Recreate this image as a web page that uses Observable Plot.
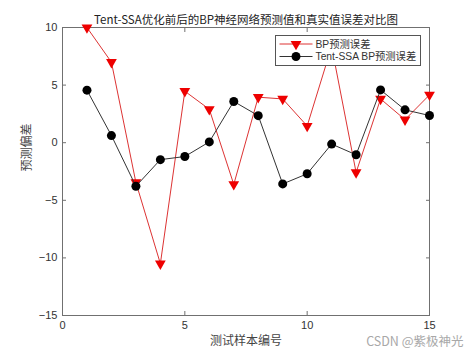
<!DOCTYPE html>
<html><head><meta charset="utf-8">
<script src="https://cdn.jsdelivr.net/npm/d3@7"></script>
<script src="https://cdn.jsdelivr.net/npm/@observablehq/plot@0.6"></script>
<style>body{margin:0;background:#fff} #chart{width:474px;height:355px}</style>
</head><body><div id="chart"></div>
<script>
const samples = [1,2,3,4,5,6,7,8,9,10,11,12,13,14,15];
const bpError = [10, 6.99, -3.45, -10.5, 4.47, 2.9, -3.62, 3.95, 3.8, 1.45, 8.35, -2.58, 3.8, 2.0, 4.15];
const tentError = [4.56, 0.62, -3.78, -1.47, -1.2, 0.07, 3.58, 2.35, -3.58, -2.7, -0.12, -1.05, 4.58, 2.85, 2.36];
const xTicks = [0, 5, 10, 15];
const yTicks = [-15, -10, -5, 0, 5, 10];
const seriesNames = ["BP预测误差", "Tent-SSA BP预测误差"];
const titleText = "Tent-SSA优化前后的BP神经网络预测值和真实值误差对比图";
const xLabel = "测试样本编号";
const yLabel = "预测偏差";
const watermark = "CSDN @紫极神光";

const rows = samples.map((s, i) => ({s, bp: bpError[i], tent: tentError[i]}));
const latin = "'Liberation Sans', Arial, 'Noto Sans CJK SC', sans-serif";
const axisColor = "#707070";

const plot = Plot.plot({
  width: 474, height: 355,
  marginLeft: 62, marginRight: 45, marginTop: 27, marginBottom: 40,
  style: {fontFamily: latin, fontSize: "11px", color: "#333", background: "#fff"},
  x: {domain: [0, 15]},
  y: {domain: [-15, 10]},
  marks: [
    Plot.frame({stroke: axisColor}),
    Plot.axisX({ticks: xTicks, tickSize: 0, tickPadding: 6, label: null, fill: "#333"}),
    Plot.axisY({ticks: yTicks, tickSize: 0, tickPadding: 5, label: null, fill: "#333"}),
    Plot.axisX({ticks: xTicks, tickSize: -4, tickFormat: () => "", label: null, stroke: axisColor}),
    Plot.axisX({ticks: xTicks, anchor: "top", tickSize: -4, tickFormat: () => "", label: null, stroke: axisColor}),
    Plot.axisY({ticks: yTicks, tickSize: -4, tickFormat: () => "", label: null, stroke: axisColor}),
    Plot.axisY({ticks: yTicks, anchor: "right", tickSize: -4, tickFormat: () => "", label: null, stroke: axisColor}),
    Plot.line(rows, {x: "s", y: "bp", stroke: "#dd3333", strokeWidth: 1}),
    Plot.dot(rows, {x: "s", y: "bp", symbol: "triangle", rotate: 180, r: 4, fill: "#ee0000", stroke: "none"}),
    Plot.line(rows, {x: "s", y: "tent", stroke: "#333", strokeWidth: 1}),
    Plot.dot(rows, {x: "s", y: "tent", symbol: "circle", r: 4.5, fill: "#000", stroke: "none"}),
    Plot.text([titleText], {frameAnchor: "top", dy: -12, fontSize: 11.5, fill: "#222", fontFamily: "'Noto Sans CJK SC', sans-serif"}),
    Plot.text([xLabel], {frameAnchor: "bottom", dy: 29, fontSize: 12, fill: "#444", fontFamily: "'Noto Sans CJK SC', sans-serif"}),
    Plot.text([yLabel], {frameAnchor: "left", dx: -35, rotate: -90, fontSize: 12, fill: "#444", fontFamily: "'Noto Sans CJK SC', sans-serif"}),
    Plot.text([watermark], {frameAnchor: "bottom-right", dx: 34, dy: 30, textAnchor: "end", fontSize: 12.5, fill: "#a8a8a8", fontFamily: "'Noto Sans CJK SC', sans-serif"})
  ]
});
document.getElementById("chart").appendChild(plot);

// legend
const svg = d3.select(plot);
const lg = svg.append("g").attr("transform", "translate(275.5,35.5)");
lg.append("rect").attr("width", 145).attr("height", 30).attr("fill", "#fff").attr("stroke", "#555");
const legendItems = [
  {name: seriesNames[0], color: "#dd3333", fill: "#ee0000", sym: d3.symbolTriangle, rot: 180, size: Math.PI * 16},
  {name: seriesNames[1], color: "#333", fill: "#000", sym: d3.symbolCircle, rot: 0, size: Math.PI * 20}
];
legendItems.forEach((it, i) => {
  const y = 8.5 + i * 12.5;
  lg.append("line").attr("x1", 4).attr("x2", 37).attr("y1", y).attr("y2", y).attr("stroke", it.color);
  lg.append("path").attr("d", d3.symbol(it.sym, it.size)()).attr("transform", `translate(20.5,${y}) rotate(${it.rot})`).attr("fill", it.fill);
  lg.append("text").attr("x", 40).attr("y", y).attr("dy", "0.35em").attr("font-size", 10.3).attr("fill", "#333")
    .attr("text-anchor", "start").attr("font-family", latin).text(it.name);
});
</script>
</body></html>
